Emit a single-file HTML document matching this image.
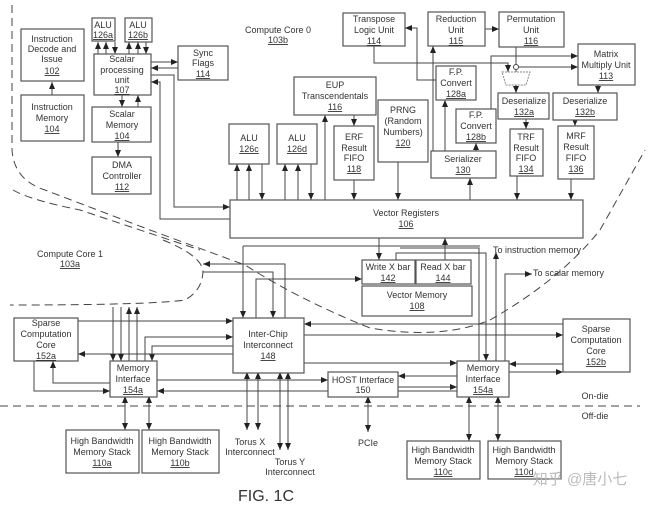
<!DOCTYPE html>
<html><head><meta charset="utf-8"><style>
html,body{margin:0;padding:0;background:#fff;}
svg{display:block;font-family:"Liberation Sans",Arial,sans-serif;}
text{font-size:9px;fill:#333;text-anchor:middle;}
.u{text-decoration:underline;}
rect{fill:#fff;stroke:#555;stroke-width:1.2;}
.l{fill:none;stroke:#444;stroke-width:1;}
.d{fill:none;stroke:#444;stroke-width:1;stroke-dasharray:8,5;}
</style></head><body>
<svg width="656" height="509" viewBox="0 0 656 509" xmlns="http://www.w3.org/2000/svg">
<defs>
<marker id="a" markerWidth="8" markerHeight="8" refX="7" refY="4" orient="auto" markerUnits="userSpaceOnUse"><path d="M0,1 L7,4 L0,7 Z" fill="#222"/></marker>
<marker id="s" markerWidth="8" markerHeight="8" refX="1" refY="4" orient="auto" markerUnits="userSpaceOnUse"><path d="M7,1 L0,4 L7,7 Z" fill="#222"/></marker>
</defs>
<rect x="0" y="0" width="656" height="509" style="fill:#fff;stroke:none"/>
<!-- dashed boundaries -->
<path class="d" d="M12,5 L12,150 Q14,180 45,190 L150,230 L245,265 Q300,300 370,328 Q440,340 490,320 Q560,280 600,230 L645,150"/>
<path class="d" d="M13,190 Q30,200 80,210 L200,250"/>
<path class="d" d="M163,240 Q200,255 203,270 Q203,290 185,300 Q150,305 10,305"/>
<path class="d" d="M0,406 L640,406"/>

<!-- connectors core0 -->
<path class="l" d="M52,95 L52,82" marker-end="url(#a)"/>
<path class="l" d="M98,54 L98,42" marker-end="url(#a)"/><path class="l" d="M106,54 L106,42" marker-end="url(#a)"/><path class="l" d="M115,42 L115,54" marker-end="url(#a)"/>
<path class="l" d="M129,54 L129,42" marker-end="url(#a)"/><path class="l" d="M138,54 L138,42" marker-end="url(#a)"/><path class="l" d="M146,42 L146,54" marker-end="url(#a)"/>
<path class="l" d="M151,62 L178,62" marker-end="url(#a)"/><path class="l" d="M178,68 L151,68" marker-end="url(#a)"/>
<path class="l" d="M122,95 L122,107" marker-end="url(#a)"/><path class="l" d="M138,107 L138,95" marker-end="url(#a)"/>
<path class="l" d="M118,142 L118,157" marker-end="url(#a)"/>
<path class="l" d="M151,75 L174,75 L174,207 L230,207" marker-end="url(#a)"/>
<path class="l" d="M230,219 L160,219 L160,82 L151,82" marker-end="url(#a)"/>
<path class="l" d="M237,200 L237,164" marker-end="url(#a)"/><path class="l" d="M249,200 L249,164" marker-end="url(#a)"/><path class="l" d="M262,164 L262,200" marker-end="url(#a)"/>
<path class="l" d="M285,200 L285,164" marker-end="url(#a)"/><path class="l" d="M298,200 L298,164" marker-end="url(#a)"/><path class="l" d="M311,164 L311,200" marker-end="url(#a)"/>
<path class="l" d="M325,200 L325,115" marker-end="url(#a)"/>
<path class="l" d="M354,115 L354,126" marker-end="url(#a)"/><path class="l" d="M354,180 L354,200" marker-end="url(#a)"/>
<path class="l" d="M398,162 L398,200" marker-end="url(#a)"/>
<path class="l" d="M470,200 L470,178" marker-end="url(#a)"/>
<path class="l" d="M517,176 L517,200" marker-end="url(#a)"/><path class="l" d="M571,179 L571,200" marker-end="url(#a)"/>
<path class="l" d="M445,151 L445,100" marker-end="url(#a)"/><path class="l" d="M476,151 L476,143" marker-end="url(#a)"/>
<path class="l" d="M436,80 L417,80 L417,28 L405,28" marker-end="url(#a)"/>
<path class="l" d="M433,151 L433,46" marker-end="url(#a)"/>
<path class="l" d="M374,46 L374,63 L508,63 L508,72" marker-end="url(#a)"/>
<path class="l" d="M485,29 L499,29" marker-end="url(#a)"/>
<path class="l" d="M516,47 L516,72"/>
<path class="l" d="M491,109 L491,56 L578,56" marker-end="url(#a)"/>
<path class="l" d="M516,67 L578,67" marker-end="url(#a)"/>
<circle cx="516" cy="67" r="2.5" fill="#fff" stroke="#444"/>
<path d="M502,72 L530,72 L526,85 L506,85 Z" fill="#fff" stroke="#888" stroke-dasharray="2,1"/>
<path class="l" d="M516,85 L516,93" marker-end="url(#a)"/>
<path class="l" d="M598,85 L598,93" marker-end="url(#a)"/>
<path class="l" d="M526,119 L526,129" marker-end="url(#a)"/><path class="l" d="M575,120 L575,126" marker-end="url(#a)"/>

<!-- bottom connectors -->
<path class="l" d="M379,238 L379,260" marker-end="url(#a)"/>
<path class="l" d="M445,260 L445,238" marker-end="url(#a)"/>
<path class="l" d="M396,260 L396,253 L486,253 L486,361" marker-end="url(#a)"/>
<path class="l" d="M479,361 L479,248 L400,248"/>
<path class="l" d="M496,361 L496,252" marker-end="url(#a)"/>
<path class="l" d="M505,361 L505,274 L532,274" marker-end="url(#a)"/>
<path class="l" d="M243,246 L243,318" marker-end="url(#a)"/>
<path class="l" d="M243,246 L480,246"/>
<path class="l" d="M285,318 L285,264 L203,264" marker-end="url(#a)"/>
<path class="l" d="M203,272 L273,272 L273,318" marker-end="url(#a)"/>
<path class="l" d="M256,318 L256,279 L362,279" marker-end="url(#a)"/>
<path class="l" d="M78,321 L233,321" marker-end="url(#a)"/>
<path class="l" d="M145,361 L145,337 L233,337" marker-end="url(#a)"/>
<path class="l" d="M233,346 L152,346 L152,361" marker-end="url(#a)"/>
<path class="l" d="M233,354 L78,354" marker-end="url(#a)"/>
<path class="l" d="M34,361 L34,391 L110,391" marker-end="url(#a)"/>
<path class="l" d="M110,383 L53,383 L53,361" marker-end="url(#a)"/>
<path class="l" d="M113,307 L113,361" marker-end="url(#a)"/><path class="l" d="M121,307 L121,361" marker-end="url(#a)"/>
<path class="l" d="M129,361 L129,307" marker-end="url(#a)"/><path class="l" d="M137,361 L137,307" marker-end="url(#a)"/>
<path class="l" d="M157,380 L328,380" marker-end="url(#a)"/>
<path class="l" d="M457,391 L157,391" marker-end="url(#a)"/>
<path class="l" d="M247,373 L247,430" marker-start="url(#s)" marker-end="url(#a)"/>
<path class="l" d="M258,373 L258,430" marker-start="url(#s)" marker-end="url(#a)"/>
<path class="l" d="M280,373 L280,450" marker-start="url(#s)" marker-end="url(#a)"/>
<path class="l" d="M288,373 L288,450" marker-start="url(#s)" marker-end="url(#a)"/>
<path class="l" d="M563,324 L304,324" marker-end="url(#a)"/>
<path class="l" d="M304,335 L563,335" marker-end="url(#a)"/>
<path class="l" d="M304,363 L457,363" marker-end="url(#a)"/>
<path class="l" d="M457,376 L398,376" marker-end="url(#a)"/>
<path class="l" d="M398,387 L457,387" marker-end="url(#a)"/>
<path class="l" d="M563,364 L509,364" marker-end="url(#a)"/>
<path class="l" d="M509,372 L563,372" marker-end="url(#a)"/>
<path class="l" d="M368,397 L368,432" marker-start="url(#s)" marker-end="url(#a)"/>
<path class="l" d="M469,397 L469,441" marker-start="url(#s)" marker-end="url(#a)"/>
<path class="l" d="M498,397 L498,441" marker-start="url(#s)" marker-end="url(#a)"/>
<path class="l" d="M125,397 L125,430" marker-start="url(#s)" marker-end="url(#a)"/>
<path class="l" d="M149,397 L149,430" marker-start="url(#s)" marker-end="url(#a)"/>

<!-- boxes -->
<rect x="21" y="29" width="63" height="52"/><text x="52" y="42">Instruction</text><text x="52" y="52">Decode and</text><text x="52" y="62">Issue</text><text x="52" y="74" class="u">102</text>
<rect x="21" y="95" width="63" height="46"/><text x="52" y="110">Instruction</text><text x="52" y="121">Memory</text><text x="52" y="132" class="u">104</text>
<rect x="92" y="18" width="23" height="23"/><text x="103" y="28">ALU</text><text x="103" y="38" class="u">126a</text>
<rect x="125" y="18" width="27" height="24"/><text x="138" y="28">ALU</text><text x="138" y="38" class="u">126b</text>
<rect x="94" y="54" width="57" height="41"/><text x="122" y="62">Scalar</text><text x="122" y="73">processing</text><text x="122" y="83">unit</text><text x="122" y="93" class="u">107</text>
<rect x="178" y="46" width="50" height="34"/><text x="203" y="56">Sync</text><text x="203" y="66">Flags</text><text x="203" y="77" class="u">114</text>
<rect x="92" y="107" width="59" height="35"/><text x="122" y="117">Scalar</text><text x="122" y="128">Memory</text><text x="122" y="139" class="u">104</text>
<rect x="92" y="157" width="59" height="37"/><text x="122" y="168">DMA</text><text x="122" y="179">Controller</text><text x="122" y="190" class="u">112</text>
<text x="278" y="33">Compute Core 0</text><text x="278" y="43" class="u">103b</text>
<rect x="229" y="124" width="40" height="40"/><text x="249" y="141">ALU</text><text x="249" y="152" class="u">126c</text>
<rect x="277" y="124" width="40" height="40"/><text x="297" y="141">ALU</text><text x="297" y="152" class="u">126d</text>
<rect x="294" y="77" width="82" height="38"/><text x="335" y="88">EUP</text><text x="335" y="99">Transcendentals</text><text x="335" y="110" class="u">116</text>
<rect x="343" y="13" width="62" height="33"/><text x="374" y="22">Transpose</text><text x="374" y="33">Logic Unit</text><text x="374" y="44" class="u">114</text>
<rect x="428" y="12" width="57" height="34"/><text x="456" y="22">Reduction</text><text x="456" y="33">Unit</text><text x="456" y="44" class="u">115</text>
<rect x="499" y="12" width="65" height="35"/><text x="531" y="22">Permutation</text><text x="531" y="33">Unit</text><text x="531" y="44" class="u">116</text>
<rect x="578" y="44" width="57" height="41"/><text x="606" y="57">Matrix</text><text x="606" y="68">Multiply Unit</text><text x="606" y="79" class="u">113</text>
<rect x="436" y="66" width="40" height="34"/><text x="456" y="75">F.P.</text><text x="456" y="86">Convert</text><text x="456" y="97" class="u">128a</text>
<rect x="334" y="126" width="40" height="54"/><text x="354" y="140">ERF</text><text x="354" y="151">Result</text><text x="354" y="161">FIFO</text><text x="354" y="172" class="u">118</text>
<rect x="378" y="100" width="50" height="62"/><text x="403" y="113">PRNG</text><text x="403" y="124">(Random</text><text x="403" y="135">Numbers)</text><text x="403" y="146" class="u">120</text>
<rect x="456" y="109" width="40" height="34"/><text x="476" y="118">F.P.</text><text x="476" y="129">Convert</text><text x="476" y="140" class="u">128b</text>
<rect x="431" y="151" width="65" height="27"/><text x="463" y="162">Serializer</text><text x="463" y="173" class="u">130</text>
<rect x="498" y="93" width="51" height="26"/><text x="524" y="104">Deserialize</text><text x="524" y="115" class="u">132a</text>
<rect x="553" y="93" width="64" height="27"/><text x="585" y="104">Deserialize</text><text x="585" y="115" class="u">132b</text>
<rect x="510" y="129" width="33" height="47"/><text x="526" y="140">TRF</text><text x="526" y="151">Result</text><text x="526" y="161">FIFO</text><text x="526" y="172" class="u">134</text>
<rect x="558" y="126" width="36" height="53"/><text x="576" y="139">MRF</text><text x="576" y="150">Result</text><text x="576" y="161">FIFO</text><text x="576" y="172" class="u">136</text>
<rect x="230" y="200" width="353" height="38"/><text x="406" y="216">Vector Registers</text><text x="406" y="227" class="u">106</text>

<text x="70" y="257">Compute Core 1</text><text x="70" y="267" class="u">103a</text>
<rect x="362" y="260" width="53" height="24"/><text x="388" y="270">Write X bar</text><text x="388" y="281" class="u">142</text>
<rect x="416" y="260" width="55" height="24"/><text x="443" y="270">Read X bar</text><text x="443" y="281" class="u">144</text>
<rect x="362" y="286" width="110" height="30"/><text x="417" y="298">Vector Memory</text><text x="417" y="309" class="u">108</text>
<text x="493" y="253" style="text-anchor:start">To instruction memory</text>
<text x="533" y="276" style="text-anchor:start">To scalar memory</text>
<rect x="14" y="318" width="64" height="43"/><text x="46" y="326">Sparse</text><text x="46" y="337">Computation</text><text x="46" y="348">Core</text><text x="46" y="359" class="u">152a</text>
<rect x="110" y="361" width="47" height="36"/><text x="133" y="371">Memory</text><text x="133" y="382">Interface</text><text x="133" y="393" class="u">154a</text>
<rect x="233" y="318" width="71" height="55"/><text x="268" y="337">Inter-Chip</text><text x="268" y="348">Interconnect</text><text x="268" y="359" class="u">148</text>
<rect x="563" y="319" width="67" height="53"/><text x="596" y="332">Sparse</text><text x="596" y="343">Computation</text><text x="596" y="354">Core</text><text x="596" y="365" class="u">152b</text>
<rect x="457" y="361" width="52" height="36"/><text x="483" y="371">Memory</text><text x="483" y="382">Interface</text><text x="483" y="393" class="u">154a</text>
<rect x="328" y="372" width="70" height="25"/><text x="363" y="383">HOST Interface</text><text x="363" y="393">150</text>
<text x="595" y="399">On-die</text><text x="595" y="419">Off-die</text>
<rect x="66" y="430" width="73" height="43"/><text x="102" y="444">High Bandwidth</text><text x="102" y="455">Memory Stack</text><text x="102" y="466" class="u">110a</text>
<rect x="142" y="430" width="77" height="43"/><text x="180" y="444">High Bandwidth</text><text x="180" y="455">Memory Stack</text><text x="180" y="466" class="u">110b</text>
<rect x="407" y="441" width="73" height="38"/><text x="443" y="453">High Bandwidth</text><text x="443" y="464">Memory Stack</text><text x="443" y="475" class="u">110c</text>
<rect x="488" y="441" width="73" height="38"/><text x="524" y="453">High Bandwidth</text><text x="524" y="464">Memory Stack</text><text x="524" y="475" class="u">110d</text>
<text x="368" y="446">PCIe</text>
<text x="250" y="445">Torus X</text><text x="250" y="455">Interconnect</text>
<text x="290" y="465">Torus Y</text><text x="290" y="475">Interconnect</text>
<text x="266" y="501" style="font-size:16px">FIG. 1C</text>
<text x="580" y="484" style="font-size:15px;fill:#bbb;font-family:'Liberation Sans','Noto Sans CJK SC',sans-serif">知乎 @唐小七</text>
</svg>
</body></html>
